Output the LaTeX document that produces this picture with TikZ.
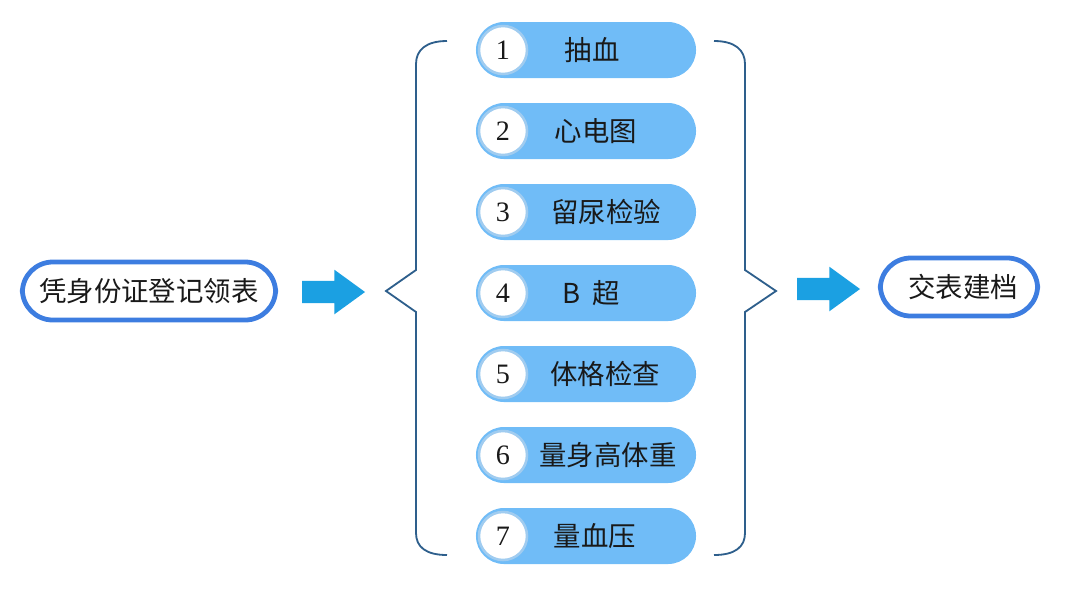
\documentclass[tikz,border=0pt]{standalone}
\usepackage{fontspec}
\setmainfont{Liberation Serif}
\newfontfamily\cjk{Noto Sans CJK SC}
\usepackage{xcolor}
\usepackage{tikz}
\usetikzlibrary{shapes.arrows, positioning}
\definecolor{ringblue}{RGB}{61, 125, 224}
\definecolor{arrowblue}{RGB}{27, 160, 226}
\definecolor{pillblue}{RGB}{112, 188, 247}
\definecolor{bracecol}{RGB}{46, 95, 140}
\definecolor{circedge}{RGB}{160, 204, 240}
\definecolor{txt}{RGB}{25, 25, 25}

\begin{document}
\begin{tikzpicture}[
  x=0.025cm, y=-0.025cm,
  endpill/.style={draw=ringblue, line width=3.4pt, fill=white, rounded corners=0.76cm,
                  minimum height=1.45cm, inner sep=0pt,
                  font=\cjk\fontsize{19.5}{22}\selectfont, text=txt},
  pill/.style={fill=pillblue, rounded corners=0.7cm, minimum width=5.5cm,
               minimum height=1.4cm, inner sep=0pt},
  numcirc/.style={circle, draw=circedge, line width=1.8pt, fill=white,
                  minimum size=1.2cm, inner sep=0pt,
                  font=\fontsize{20}{22}\selectfont, text=txt},
  steplabel/.style={font=\cjk\fontsize{19.5}{22}\selectfont, text=txt, inner sep=0pt},
  blockarrow/.style={single arrow, fill=arrowblue, inner xsep=0pt, inner ysep=0.27cm,
                     minimum height=1.57cm,
                     single arrow head extend=0.28cm, single arrow tip angle=72},
  brace/.style={draw=bracecol, line width=1.3pt}
]
\useasboundingbox (0,0) rectangle (1080,608);

% Start and end
\node[endpill, minimum width=6.33cm] (start) at (149,291) {凭身份证登记领表};
\node[endpill, minimum width=3.93cm] (finish) at (959,287) {\hspace*{0.2cm}交表建档};

% Block arrows
\node[blockarrow] (arrowin) at (326,292) {};
\node[blockarrow] (arrowout) at (821,289) {};

% Braces
\draw[brace] (447,41) .. controls (426,41) and (416,50) .. (416,64) -- (416,270)
  -- (386,291) -- (416,312) -- (416,533) .. controls (416,547) and (426,555) .. (447,555);
\draw[brace] (714,41) .. controls (735,41) and (745,50) .. (745,64) -- (745,270)
  -- (776,291) -- (745,312) -- (745,533) .. controls (745,547) and (735,555) .. (714,555);

% Steps
\foreach \i/\lbl/\tx in {1/抽血/592, 2/心电图/596, 3/留尿检验/606, 4/B\ \ 超/591,
                         5/体格检查/605, 6/量身高体重/608, 7/量血压/595} {
  \node[pill] (pill\i) at (586,{50+81*(\i-1)}) {};
  \node[numcirc] (num\i) at (503,{50+81*(\i-1)}) {\i};
  \node[steplabel] (lbl\i) at (\tx,{50+81*(\i-1)}) {\lbl};
}

\end{tikzpicture}
\end{document}
